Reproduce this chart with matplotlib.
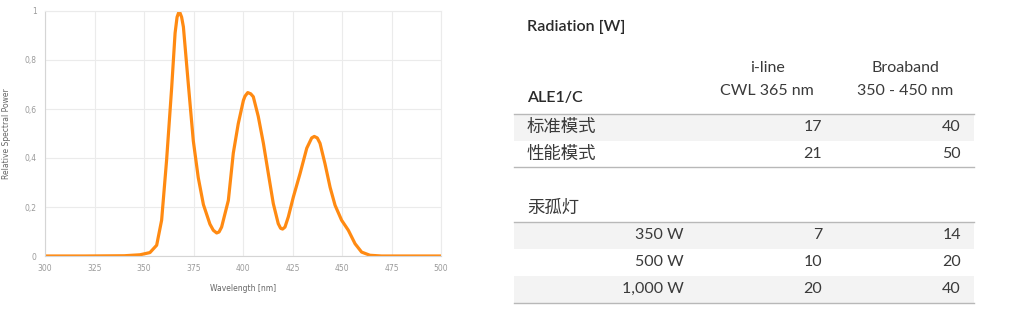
import matplotlib
matplotlib.use("Agg")
import matplotlib.pyplot as plt
from matplotlib.lines import Line2D
from matplotlib.patches import Rectangle

# ---------------- data ----------------
wavelength = [300, 320, 340, 348, 353, 356.4, 358.9, 361.4, 364, 365.7, 366.7, 367.8,
              369.0, 369.9, 372.4, 374.9, 377.4, 380, 383.3, 385, 386.7, 387.9, 389.2,
              392.6, 395.1, 397.6, 400.2, 401.0, 402.4, 403.9, 405.2, 407.7, 410.3,
              412.8, 415.3, 417.8, 419, 420, 421.2, 422.9, 425.4, 428.8, 432.2, 434.7,
              436, 437.5, 438.9, 441.4, 444, 446.5, 449.8, 453.2, 456.6, 459.9, 464.1,
              470, 500]
power = [0, 0, 0.001, 0.005, 0.014, 0.044, 0.146, 0.39, 0.69, 0.91, 0.975, 1.0,
         0.975, 0.935, 0.70, 0.47, 0.32, 0.21, 0.13, 0.105, 0.094, 0.098, 0.118,
         0.227, 0.42, 0.54, 0.635, 0.652, 0.667, 0.662, 0.65, 0.57, 0.46,
         0.336, 0.214, 0.132, 0.113, 0.11, 0.118, 0.16, 0.24, 0.336, 0.44, 0.482,
         0.488, 0.482, 0.46, 0.377, 0.28, 0.207, 0.146, 0.105, 0.05, 0.016, 0.003,
         0, 0]

x_ticks = [300, 325, 350, 375, 400, 425, 450, 475, 500]
y_ticks = [0, 0.2, 0.4, 0.6, 0.8, 1]
y_tick_labels = ["0", "0,2", "0,4", "0,6", "0,8", "1"]

table_title = "Radiation [W]"
col_headers = [["i-line", "CWL 365 nm"], ["Broaband", "350 - 450 nm"]]
group1_name = "ALE1/C"
group1_rows = ["标准模式", "性能模式"]
group1_iline = [17, 21]
group1_broad = [40, 50]
group2_name = "汞孤灯"
group2_rows = ["350 W", "500 W", "1,000 W"]
group2_iline = [7, 10, 20]
group2_broad = [14, 20, 40]

# ---------------- figure ----------------
W, H = 1024, 311
fig = plt.figure(figsize=(W / 100, H / 100), dpi=100)
fig.patch.set_facecolor("white")

def fx(x):
    return x / W

def fy(y):
    return 1 - y / H

ax = fig.add_axes([fx(45), fy(256), (441 - 45) / W, (256 - 11) / H])
ax.plot(wavelength, power, color="#ff8a12", lw=2.3, solid_joinstyle="round",
        solid_capstyle="round")
ax.set_xlim(300, 500)
ax.set_ylim(0, 1)
ax.set_xticks(x_ticks)
ax.set_yticks(y_ticks)
ax.set_yticklabels(y_tick_labels)
ax.grid(True, color="#ebebeb", lw=0.8)
ax.set_axisbelow(True)
for s in ["top", "right"]:
    ax.spines[s].set_color("#ebebeb")
    ax.spines[s].set_linewidth(0.8)
for s in ["left", "bottom"]:
    ax.spines[s].set_color("#d5d5d5")
    ax.spines[s].set_linewidth(0.8)
ax.tick_params(length=0, labelsize=5.5, labelcolor="#9a9a9a", pad=6)
ax.set_xlabel("Wavelength [nm]", fontsize=5.5, color="#666666", labelpad=8)
ax.set_ylabel("Relative Spectral Power", fontsize=5.5, color="#666666", labelpad=10)

# ---------------- table ----------------
fam = ["Lato", "Noto Sans CJK SC", "DejaVu Sans"]
cjk = ["Noto Sans CJK SC", "DejaVu Sans"]
txt_col = "#3a3a3a"
fs = 11.5

fig.text(fx(527), fy(27), table_title, fontsize=fs, color="#2a2a2a",
         fontweight=600, family=fam, va="center", ha="left")
for (l1, l2), cx in zip(col_headers, [767, 905]):
    fig.text(fx(cx), fy(68), l1, fontsize=fs, color=txt_col, family=fam,
             va="center", ha="center")
    fig.text(fx(cx), fy(91), l2, fontsize=fs, color=txt_col, family=fam,
             va="center", ha="center")
fig.text(fx(527), fy(98), group1_name, fontsize=fs, color="#2a2a2a",
         fontweight=600, family=fam, va="center", ha="left")

x0, x1 = 514, 974
def hline(y):
    fig.add_artist(Line2D([fx(x0), fx(x1)], [fy(y), fy(y)], color="#b8b8b8", lw=1.0))

def shade(y_top, y_bot):
    fig.add_artist(Rectangle((fx(x0), fy(y_bot)), (x1 - x0) / W, (y_bot - y_top) / H,
                             facecolor="#f3f3f3", edgecolor="none", zorder=0))

row_h = 27
# group 1
top = 113.5
for i, (name, a, b) in enumerate(zip(group1_rows, group1_iline, group1_broad)):
    yt = top + i * row_h
    if i % 2 == 0:
        shade(yt, yt + row_h)
    yc = yt + row_h / 2
    fig.text(fx(527), fy(yc), name, fontsize=12.5, color=txt_col, family=cjk,
             va="center", ha="left")
    fig.text(fx(822), fy(yc), str(a), fontsize=fs, color=txt_col, family=fam,
             va="center", ha="right")
    fig.text(fx(961), fy(yc), str(b), fontsize=fs, color=txt_col, family=fam,
             va="center", ha="right")
hline(top)
hline(top + len(group1_rows) * row_h)

# group 2
fig.text(fx(527), fy(208), group2_name, fontsize=12.5, color=txt_col, family=cjk,
         va="center", ha="left")
top2 = 221.5
for i, (name, a, b) in enumerate(zip(group2_rows, group2_iline, group2_broad)):
    yt = top2 + i * row_h
    if i % 2 == 0:
        shade(yt, yt + row_h)
    yc = yt + row_h / 2
    fig.text(fx(684), fy(yc), name, fontsize=fs, color=txt_col, family=fam,
             va="center", ha="right")
    fig.text(fx(822), fy(yc), str(a), fontsize=fs, color=txt_col, family=fam,
             va="center", ha="right")
    fig.text(fx(961), fy(yc), str(b), fontsize=fs, color=txt_col, family=fam,
             va="center", ha="right")
hline(top2)
hline(top2 + len(group2_rows) * row_h)

fig.savefig("out.png", dpi=100, facecolor="white")
